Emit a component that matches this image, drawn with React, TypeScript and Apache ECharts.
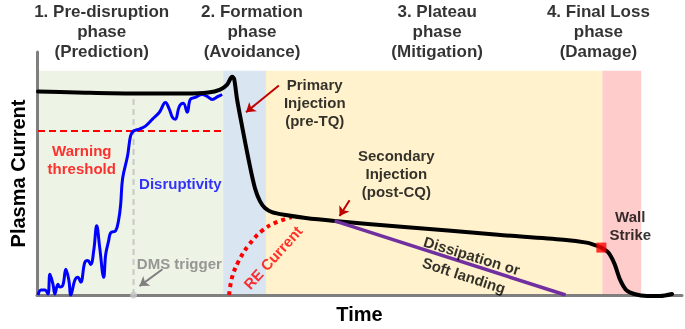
import React, { useEffect, useRef } from "react";
import * as echarts from "echarts";

// Time / current in arbitrary schematic units (x: 0..648, y: 0..246)
const plasmaCurrent: [number, number][] = [
  [1, 206], [40, 205], [97, 204], [150, 204], [172, 205], [184, 208],
  [191, 213], [196, 221], [198, 219], [201, 198], [206, 171], [213, 135],
  [219, 108], [224, 95], [229, 88], [236, 84], [250, 81], [270, 78], [299, 75],
  [366, 69], [416, 65], [463, 61], [529, 56], [552, 53], [562, 50], [567, 48],
  [574, 43], [580, 32], [586, 15], [592, 5], [600, 1], [613, -1], [626, -1], [638, 1],
];

const disruptivity: [number, number][] = [
  [1, 0], [4, 5], [8, 5], [11, 1], [13, 21], [16, 11], [18, 1], [21, 11],
  [23, 8], [26, 10], [29, 26], [32, 15], [34, 0], [38, 15], [41, 18], [44, 13],
  [48, 33], [51, 35], [54, 31], [57, 45], [60, 70], [63, 48], [67, 18], [69, 41],
  [72, 55], [74, 63], [79, 65], [82, 76], [84, 91], [86, 118], [91, 141],
  [94, 161], [97, 166], [103, 168], [109, 171], [116, 178], [123, 185],
  [129, 195], [133, 188], [136, 180], [139, 178], [143, 191], [147, 194],
  [151, 185], [154, 198], [159, 200], [166, 203], [171, 201], [176, 198],
  [182, 201], [186, 203],
];

const reCurrent: [number, number][] = [
  [193, 0], [196, 18], [203, 35], [213, 51], [226, 65], [239, 73], [256, 79],
];

const softLanding: [number, number][] = [[299, 75], [531, 0]];
const warningThreshold: [number, number][] = [[1, 166], [187, 166]];
const dmsTrigger: [number, number][] = [[97, 0], [97, 203]];
const wallStrike: [number, number] = [567, 48];

const phaseBounds = [1, 187, 230, 568, 607];
const phaseTop = 227;
const phaseColors = ["#edf3e5", "#d9e5f1", "#fff2cc", "#ffcccc"];

const phaseTitles: { text: string; at: [number, number] }[] = [
  { text: "1. Pre-disruption\nphase\n(Prediction)", at: [65, 267] },
  { text: "2. Formation\nphase\n(Avoidance)", at: [216, 267] },
  { text: "3. Plateau\nphase\n(Mitigation)", at: [402, 267] },
  { text: "4. Final Loss\nphase\n(Damage)", at: [564, 267] },
];

const annotations: { text: string; at: [number, number]; rotate: number; kind: string }[] = [
  { text: "Warning\nthreshold", at: [45, 137], rotate: 0, kind: "red" },
  { text: "Disruptivity", at: [144, 113], rotate: 0, kind: "blue" },
  { text: "DMS trigger", at: [143, 32], rotate: 0, kind: "gray" },
  { text: "Primary\nInjection\n(pre-TQ)", at: [279, 195], rotate: 0, kind: "black" },
  { text: "Secondary\nInjection\n(post-CQ)", at: [361, 123], rotate: 0, kind: "black" },
  { text: "Dissipation or", at: [437, 40], rotate: -17, kind: "black" },
  { text: "Soft landing", at: [429, 20], rotate: -18, kind: "black" },
  { text: "RE Current", at: [237, 38], rotate: 48, kind: "red" },
  { text: "Wall\nStrike", at: [596, 70], rotate: 0, kind: "black" },
];

const arrows: { from: [number, number]; to: [number, number]; kind: string }[] = [
  { from: [243, 212], to: [210, 185], kind: "darkred" },
  { from: [314, 96], to: [304, 80], kind: "darkred" },
  { from: [126, 26], to: [103, 9], kind: "gray" },
];

const FONT = "'Liberation Sans', Arial, Helvetica, sans-serif";
const colorOf: Record<string, string> = {
  red: "#ff0000",
  blue: "#0000ff",
  gray: "#7f7f7f",
  black: "#000000",
  darkred: "#c00000",
};

export default function App() {
  const ref = useRef<HTMLDivElement>(null);
  useEffect(() => {
    const chart = echarts.init(ref.current!, null, { renderer: "svg" });
    const areaData = phaseColors.map((c, i) => [
      { xAxis: phaseBounds[i], yAxis: 0, itemStyle: { color: c } },
      { xAxis: phaseBounds[i + 1], yAxis: phaseTop },
    ]);
    const option: any = {
      animation: false,
      grid: { left: 34, right: 3, top: 52, bottom: 31 },
      xAxis: {
        type: "value",
        min: 0,
        max: 648,
        z: 3,
        axisLine: { lineStyle: { color: "#7f7f7f", width: 3 } },
        axisTick: { show: false },
        axisLabel: { show: false },
        splitLine: { show: false },
        name: "Time",
        nameLocation: "middle",
        nameGap: 9,
        nameTextStyle: { fontSize: 20, fontWeight: "bold", color: "#000", fontFamily: FONT },
      },
      yAxis: {
        type: "value",
        min: 0,
        max: 246,
        z: 3,
        axisLine: { lineStyle: { color: "#7f7f7f", width: 3 } },
        axisTick: { show: false },
        axisLabel: { show: false },
        splitLine: { show: false },
        name: "Plasma Current",
        nameLocation: "middle",
        nameRotate: 90,
        nameGap: 9,
        nameTextStyle: { fontSize: 20, fontWeight: "bold", color: "#000", fontFamily: FONT },
      },
      series: [
        {
          type: "line",
          data: [],
          z: 1,
          silent: true,
          markArea: { silent: true, data: areaData },
        },
        {
          type: "line",
          data: warningThreshold,
          symbol: "none",
          z: 3,
          lineStyle: { color: "#ff0000", width: 2, type: [7, 4] },
        },
        {
          type: "line",
          data: dmsTrigger,
          symbol: "none",
          z: 3,
          lineStyle: { color: "#c8c8c8", width: 2, type: [6, 4] },
        },
        {
          type: "scatter",
          data: [dmsTrigger[0]],
          symbolSize: 7,
          z: 4,
          itemStyle: { color: "#c8c8c8" },
        },
        {
          type: "line",
          data: disruptivity,
          symbol: "none",
          smooth: 0.4,
          z: 4,
          clip: false,
          lineStyle: { color: "#0000ff", width: 3 },
        },
        {
          type: "line",
          data: reCurrent,
          symbol: "none",
          smooth: 0.4,
          z: 4,
          lineStyle: { color: "#ff0000", width: 4, type: [4, 4] },
        },
        {
          type: "line",
          data: plasmaCurrent,
          symbol: "none",
          smooth: 0.3,
          z: 5,
          clip: false,
          lineStyle: { color: "#000000", width: 4, join: "round", cap: "round" },
        },
        {
          type: "line",
          data: softLanding,
          symbol: "none",
          z: 6,
          lineStyle: { color: "#7030a0", width: 3.5 },
        },
        {
          type: "scatter",
          data: [wallStrike],
          symbol: "rect",
          symbolSize: 10,
          z: 7,
          itemStyle: { color: "#ff0000" },
        },
        {
          type: "line",
          data: [],
          z: 7,
          markLine: {
            silent: true,
            symbol: ["none", "arrow"],
            symbolSize: 9,
            label: { show: false },
            data: arrows.map((a) => [
              { coord: a.from, lineStyle: { color: colorOf[a.kind], width: 2, type: "solid" } },
              { coord: a.to },
            ]),
          },
        },
        {
          type: "scatter",
          symbolSize: 0,
          z: 8,
          clip: false,
          silent: true,
          label: {
            show: true,
            position: "inside",
            fontFamily: FONT,
            fontWeight: "bold",
            align: "center",
            verticalAlign: "middle",
          },
          data: [
            ...annotations.map((a) => ({
              value: a.at,
              label: {
                formatter: a.text,
                color: colorOf[a.kind],
                rotate: a.rotate,
                fontSize: 15,
                lineHeight: 18,
              },
            })),
            ...phaseTitles.map((p) => ({
              value: p.at,
              label: { formatter: p.text, color: "#000", fontSize: 17, lineHeight: 20 },
            })),
          ],
        },
      ],
    };
    chart.setOption(option);
    return () => chart.dispose();
  }, []);
  return (
    <div
      ref={ref}
      style={{ position: "fixed", left: 0, top: 0, width: 685, height: 329 }}
    />
  );
}
